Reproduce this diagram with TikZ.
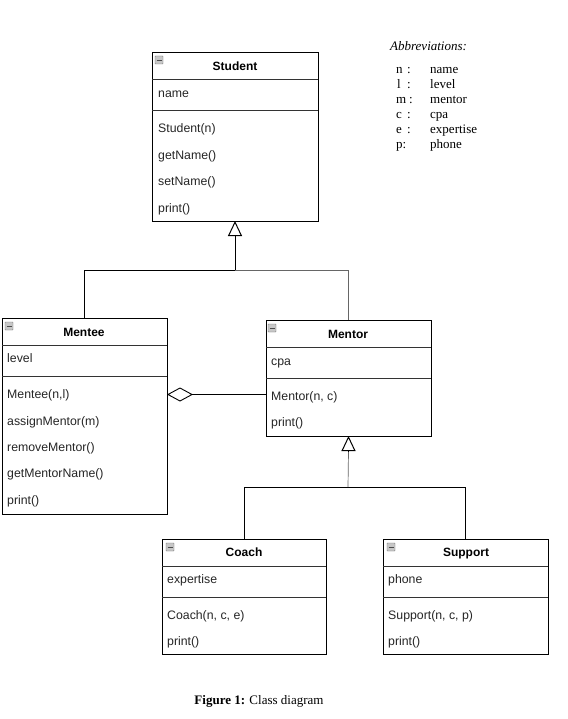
\documentclass[tikz,border=0pt]{standalone}
\usepackage{fontspec}
\setmainfont{Liberation Serif}
\setsansfont{Liberation Sans}
\usetikzlibrary{arrows.meta}
\tikzset{
  classbox/.style={draw=black, line width=0.9pt, fill=white, anchor=north west, inner sep=0pt, outer sep=0pt},
  sep/.style={draw=black!80, line width=0.9pt},
  ctitle/.style={font=\sffamily\bfseries\fontsize{12}{14}\selectfont, inner sep=0pt, anchor=base},
  member/.style={font=\sffamily\fontsize{12.3}{14}\selectfont, anchor=base west, inner sep=0pt, text=black!85},
  icon/.style={draw=black!55, fill=black!22, minimum size=8pt, inner sep=0pt, rounded corners=0.5pt,
    path picture={\draw[black!70, line width=0.8pt] ([xshift=1.5pt]path picture bounding box.west) -- ([xshift=-1.5pt]path picture bounding box.east);}},
  gen/.style={draw=black, line width=1pt},
  genthin/.style={draw=black!60, line width=0.7pt},
  genarrow/.style={-{Triangle[open, length=15pt, width=14pt, line width=1pt]}},
  aggr/.style={draw=black, line width=0.9pt, {Diamond[open, length=26pt, width=14pt, line width=0.9pt]}-},
  abbr/.style={font=\fontsize{13}{15}\selectfont, anchor=base west, inner sep=0pt},
}
\begin{document}
\begin{tikzpicture}[x=1pt, y=-1pt]
\useasboundingbox (0,0) rectangle (567,719);

% ---------- Student ----------
\node[classbox, minimum width=166pt, minimum height=169pt] (student) at (152,52) {};
\node[icon] (sticon) at (159,60) {};
\node[ctitle] (sttitle) at (235,70.5) {Student};
\draw[sep] (student.west |- 0,79) -- (student.east |- 0,79);
\node[member] (stattr) at (158,97.5) {name};
\draw[sep] (student.west |- 0,110) -- (student.east |- 0,110);
\node[member] (stm1) at (158,132.5) {Student(n)};
\node[member] (stm2) at (158,159.5) {getName()};
\node[member] (stm3) at (158,185.5) {setName()};
\node[member] (stm4) at (158,212.5) {print()};

% ---------- Abbreviations ----------
\node[abbr, font=\itshape\fontsize{13}{15}\selectfont] (abbrt) at (390,50.5) {Abbreviations:};
\node[abbr] (a1) at (396,74) {n};  \node[abbr] (a1c) at (407,74) {:}; \node[abbr] (a1w) at (430,74) {name};
\node[abbr] (a2) at (397,89) {l};  \node[abbr] (a2c) at (407,89) {:}; \node[abbr] (a2w) at (430,89) {level};
\node[abbr] (a3) at (396,104) {m}; \node[abbr] (a3c) at (409,104) {:}; \node[abbr] (a3w) at (430,104) {mentor};
\node[abbr] (a4) at (396,119) {c}; \node[abbr] (a4c) at (407,119) {:}; \node[abbr] (a4w) at (430,119) {cpa};
\node[abbr] (a5) at (396,134) {e}; \node[abbr] (a5c) at (407,134) {:}; \node[abbr] (a5w) at (430,134) {expertise};
\node[abbr] (a6) at (396,149) {p:}; \node[abbr] (a6w) at (430,149) {phone};

% ---------- Mentee ----------
\node[classbox, minimum width=165pt, minimum height=196pt] (mentee) at (2,318) {};
\node[icon] (meicon) at (9,326) {};
\node[ctitle] (metitle) at (84,336.5) {Mentee};
\draw[sep] (mentee.west |- 0,345) -- (mentee.east |- 0,345);
\node[member] (meattr) at (7,362.5) {level};
\draw[sep] (mentee.west |- 0,376) -- (mentee.east |- 0,376);
\node[member] (mem1) at (7,398.5) {Mentee(n,l)};
\node[member] (mem2) at (7,425.5) {assignMentor(m)};
\node[member] (mem3) at (7,451.5) {removeMentor()};
\node[member] (mem4) at (7,477.5) {getMentorName()};
\node[member] (mem5) at (7,504.5) {print()};

% ---------- Mentor ----------
\node[classbox, minimum width=165pt, minimum height=116pt] (mentor) at (266,320) {};
\node[icon] (moicon) at (272,328) {};
\node[ctitle] (motitle) at (348,338.5) {Mentor};
\draw[sep] (mentor.west |- 0,347) -- (mentor.east |- 0,347);
\node[member] (moattr) at (271,365.5) {cpa};
\draw[sep] (mentor.west |- 0,378) -- (mentor.east |- 0,378);
\node[member] (mom1) at (271,400.5) {Mentor(n, c)};
\node[member] (mom2) at (271,426.5) {print()};

% ---------- Coach ----------
\node[classbox, minimum width=164pt, minimum height=115pt] (coach) at (162,539) {};
\node[icon] (coicon) at (170,547) {};
\node[ctitle] (cotitle) at (244,556.5) {Coach};
\draw[sep] (coach.west |- 0,566) -- (coach.east |- 0,566);
\node[member] (coattr) at (167,583.5) {expertise};
\draw[sep] (coach.west |- 0,597) -- (coach.east |- 0,597);
\node[member] (com1) at (167,619.5) {Coach(n, c, e)};
\node[member] (com2) at (167,645.5) {print()};

% ---------- Support ----------
\node[classbox, minimum width=165pt, minimum height=115pt] (support) at (383,539) {};
\node[icon] (suicon) at (391,547) {};
\node[ctitle] (sutitle) at (466,556.5) {Support};
\draw[sep] (support.west |- 0,566) -- (support.east |- 0,566);
\node[member] (suattr) at (388,583.5) {phone};
\draw[sep] (support.west |- 0,597) -- (support.east |- 0,597);
\node[member] (sum1) at (388,619.5) {Support(n, c, p)};
\node[member] (sum2) at (388,645.5) {print()};

% ---------- Generalization: Student ----------
\coordinate (j1) at (235,270);
\draw[gen] (mentee.north) -- (mentee.north |- j1) -- (j1);
\draw[genthin] (j1) -- (j1 -| mentor.north) -- (mentor.north);
\draw[gen, genarrow] (j1) -- (student.south);

% ---------- Generalization: Mentor ----------
\coordinate (j2) at (348,487);
\draw[gen] (coach.north) -- (coach.north |- j2) -- (j2 -| support.north) -- (support.north);
\draw[genthin] (j2) -- ([yshift=-15pt]mentor.south);
\draw[gen, genarrow] ([yshift=-15pt]mentor.south) -- (mentor.south);

% ---------- Aggregation ----------
\coordinate (ag) at (220,394.5);
\draw[aggr] (ag -| mentee.east) -- (ag -| mentor.west);

% ---------- Caption ----------
\node[font=\fontsize{13}{15}\selectfont, inner sep=0pt] (caption) at (259,701) {\textbf{Figure 1:} Class diagram};
\end{tikzpicture}
\end{document}
